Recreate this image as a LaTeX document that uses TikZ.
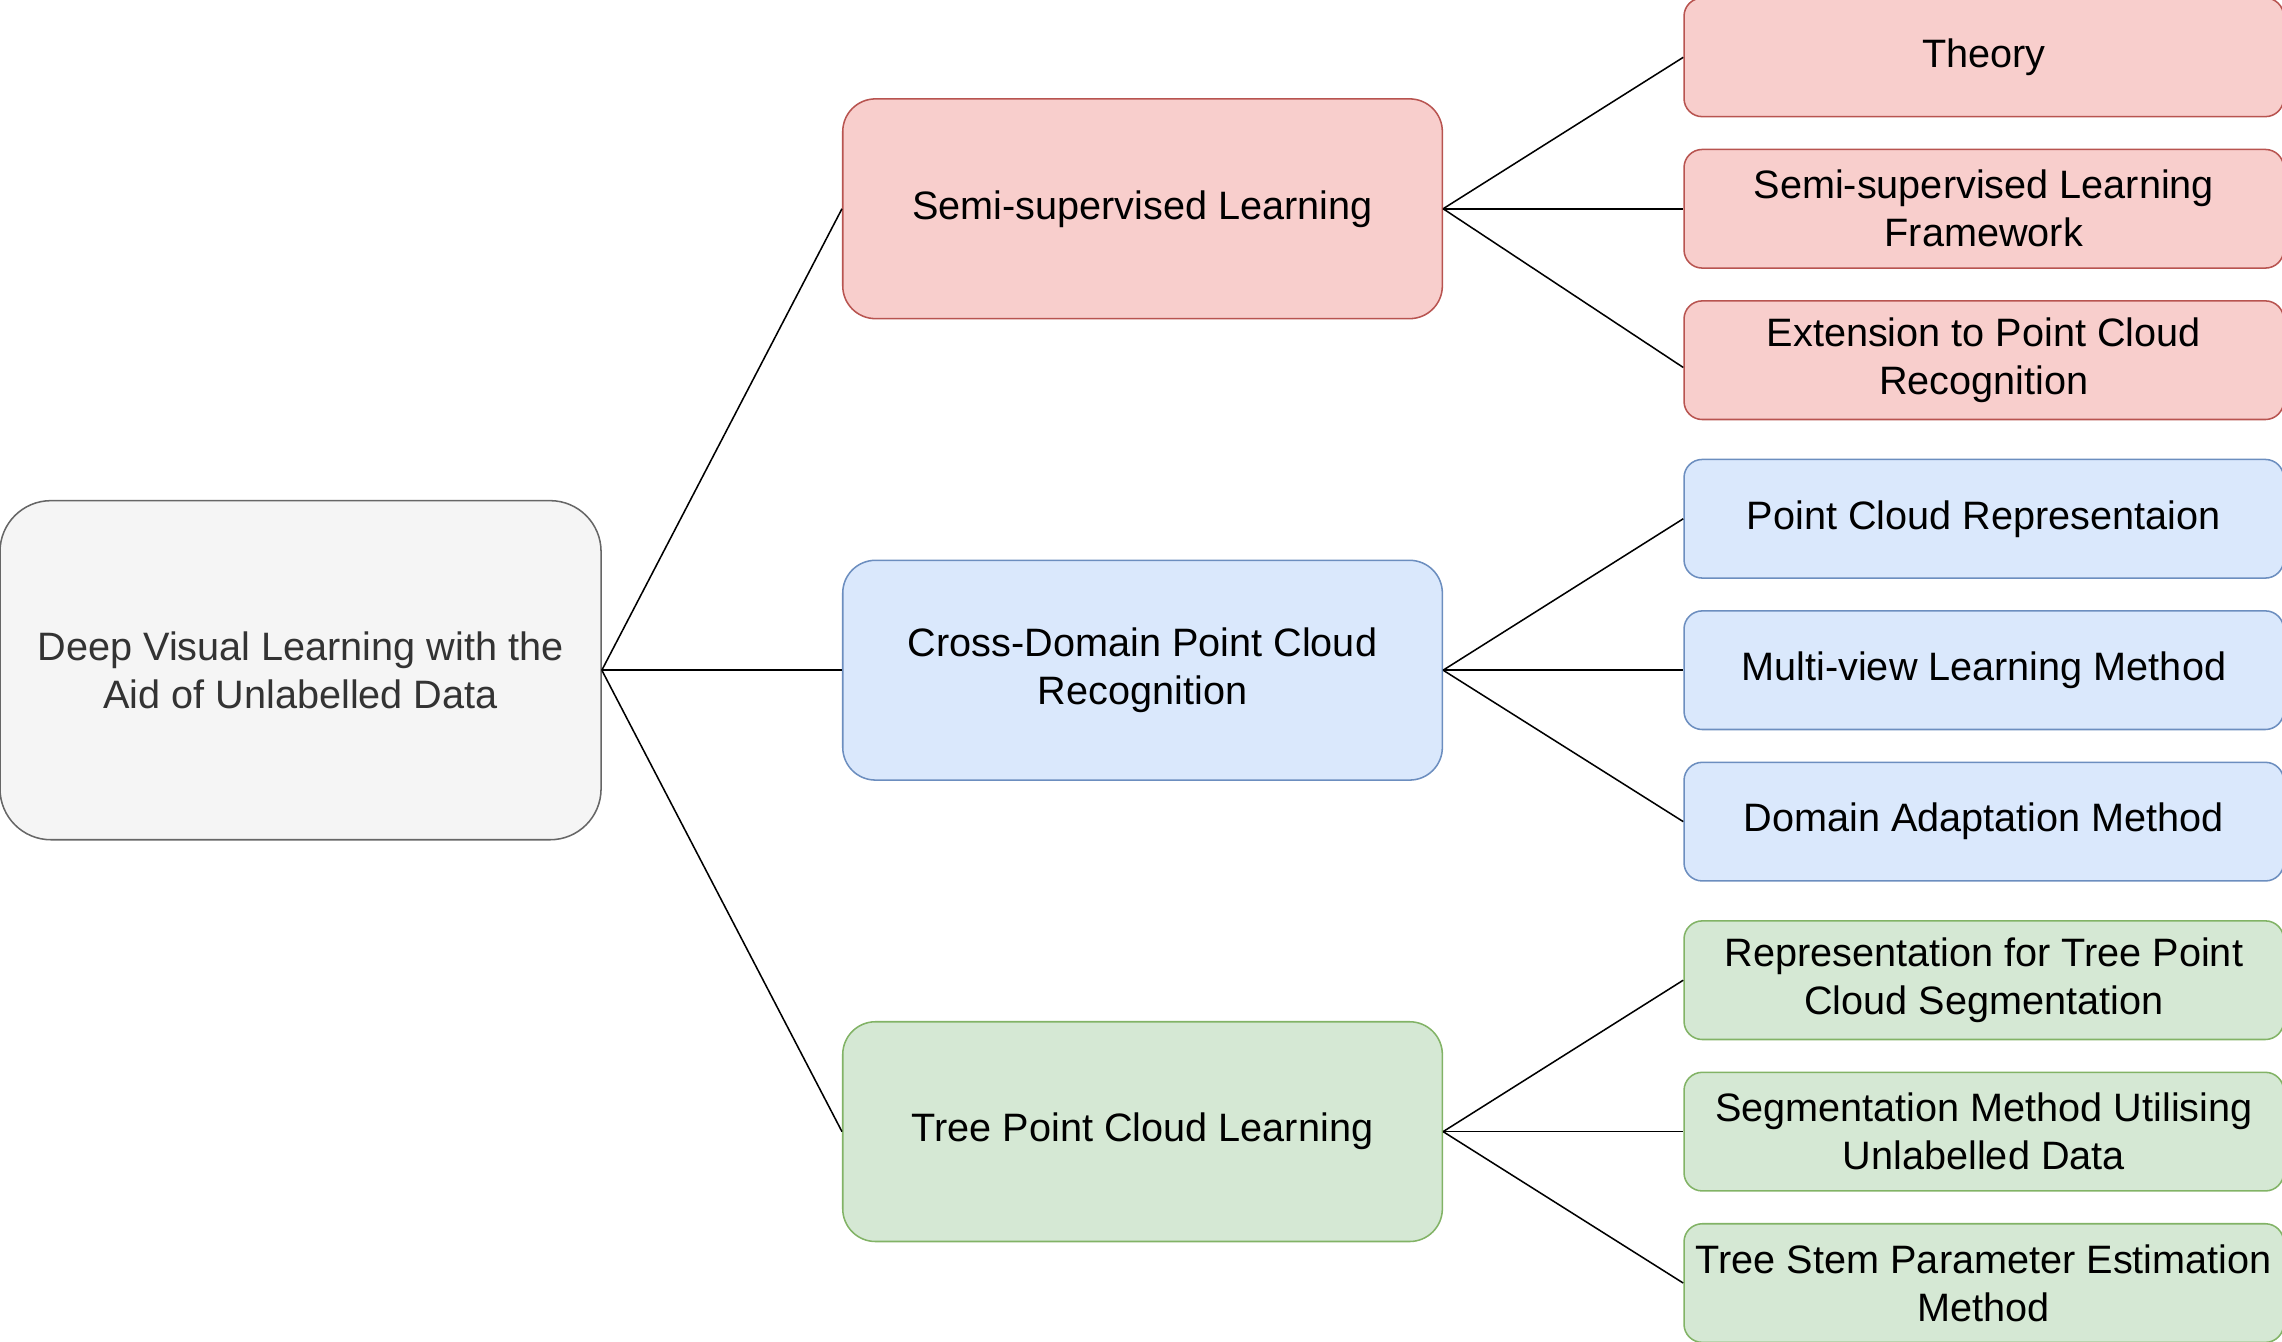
\documentclass[tikz,border=0pt]{standalone}
\usepackage{fontspec}
\setmainfont{Liberation Sans}
\usepackage{tikz}
\usetikzlibrary{positioning}
\definecolor{greyfill}{HTML}{F5F5F5}
\definecolor{greydraw}{HTML}{666666}
\definecolor{greytext}{HTML}{333333}
\definecolor{redfill}{HTML}{F8CECC}
\definecolor{reddraw}{HTML}{B85450}
\definecolor{bluefill}{HTML}{DAE8FC}
\definecolor{bluedraw}{HTML}{6C8EBF}
\definecolor{greenfill}{HTML}{D5E8D4}
\definecolor{greendraw}{HTML}{82B366}
\tikzset{
    basebox/.style={rectangle, line width=0.6pt, align=center, inner sep=0pt, font=\fontsize{15.5}{18.8}\selectfont},
    rootbox/.style={basebox, rounded corners=0.7cm, minimum width=8.26cm, minimum height=4.66cm, fill=greyfill, draw=greydraw, text=greytext},
    topicbox/.style={basebox, rounded corners=0.45cm, minimum width=8.24cm, minimum height=3.02cm},
    itembox/.style={basebox, rounded corners=0.25cm, minimum width=8.24cm, minimum height=1.63cm},
    redbox/.style={fill=redfill, draw=reddraw},
    bluebox/.style={fill=bluefill, draw=bluedraw},
    greenbox/.style={fill=greenfill, draw=greendraw},
    link/.style={line width=0.6pt, black}
}

\begin{document}
\begin{tikzpicture}[node distance=3.3cm]
\useasboundingbox (-4.13,9.21) rectangle (27.23,-9.23);

\node[rootbox] (root) at (0,0) {Deep Visual Learning with the\\Aid of Unlabelled Data};

\node[topicbox, bluebox, right=3.3cm of root] (cdr) {Cross-Domain Point Cloud\\Recognition};
\node[topicbox, redbox, above=3.3cm of cdr] (ssl) {Semi-supervised Learning};
\node[topicbox, greenbox, below=3.3cm of cdr] (tree) {Tree Point Cloud Learning};

\node[itembox, redbox, right=3.3cm of ssl] (ssl2) {Semi-supervised Learning\\Framework};
\node[itembox, redbox, above=0.43cm of ssl2] (ssl1) {Theory};
\node[itembox, redbox, below=0.43cm of ssl2] (ssl3) {Extension to Point Cloud\\Recognition};

\node[itembox, bluebox, right=3.3cm of cdr] (cdr2) {Multi-view Learning Method};
\node[itembox, bluebox, above=0.43cm of cdr2] (cdr1) {Point Cloud Representaion};
\node[itembox, bluebox, below=0.43cm of cdr2] (cdr3) {Domain Adaptation Method};

\node[itembox, greenbox, right=3.3cm of tree] (tree2) {Segmentation Method Utilising\\Unlabelled Data};
\node[itembox, greenbox, above=0.43cm of tree2] (tree1) {Representation for Tree Point\\Cloud Segmentation};
\node[itembox, greenbox, below=0.43cm of tree2] (tree3) {Tree Stem Parameter Estimation\\Method};

\draw[link] (root.east) -- (ssl.west);
\draw[link] (root.east) -- (cdr.west);
\draw[link] (root.east) -- (tree.west);

\draw[link] (ssl.east) -- (ssl1.west);
\draw[link] (ssl.east) -- (ssl2.west);
\draw[link] (ssl.east) -- ([yshift=-0.1cm]ssl3.west);

\draw[link] (cdr.east) -- (cdr1.west);
\draw[link] (cdr.east) -- (cdr2.west);
\draw[link] (cdr.east) -- (cdr3.west);

\draw[link] (tree.east) -- (tree1.west);
\draw[link] (tree.east) -- (tree2.west);
\draw[link] (tree.east) -- (tree3.west);

\end{tikzpicture}
\end{document}
